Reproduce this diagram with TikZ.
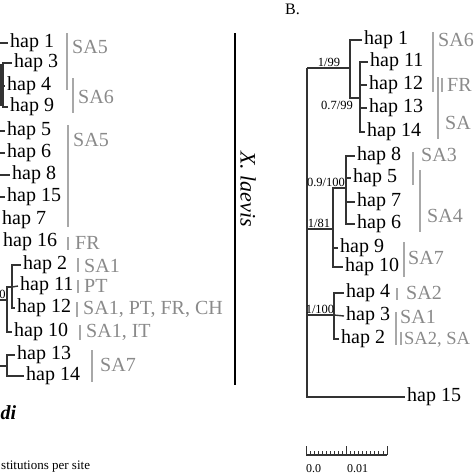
\documentclass[tikz,border=0pt]{standalone}
\usepackage{fontspec}
\setmainfont{Liberation Serif}
\definecolor{treegray}{HTML}{333333}
\definecolor{grpgray}{HTML}{8A8A8A}
\definecolor{bargray}{HTML}{A8A8A8}
\begin{document}
\begin{tikzpicture}[x=1pt,y=-1pt,
  tip/.style={anchor=west,inner xsep=2pt,inner ysep=0pt,font=\fontsize{20}{22}\selectfont},
  grp/.style={anchor=west,inner sep=0pt,text=grpgray,font=\fontsize{20}{22}\selectfont},
  br/.style={draw=treegray,line width=1.4pt},
  bar/.style={draw=bargray,line width=1.3pt},
  bs/.style={font=\fontsize{12.5}{14}\selectfont,inner sep=0.8pt}]
\useasboundingbox (0,0) rectangle (474,474);
\clip (0,0) rectangle (474,474);

% ===== Left tree =====
\node[tip] (L1) at (8,43) {hap 1};
\node[tip] (L3) at (12,63) {hap 3};
\node[tip] (L4) at (5,86) {hap 4};
\node[tip] (L9) at (8,107) {hap 9};
\node[tip] (L5) at (5,131) {hap 5};
\node[tip] (L6) at (5,153) {hap 6};
\node[tip] (L8) at (10,175) {hap 8};
\node[tip] (L15) at (5,197) {hap 15};
\node[tip] (L7) at (0,220) {hap 7};
\node[tip] (L16) at (1,242) {hap 16};
\node[tip] (L2) at (21,265) {hap 2};
\node[tip] (L11) at (18,286) {hap 11};
\node[tip] (L12) at (15,308) {hap 12};
\node[tip] (L10) at (12,332) {hap 10};
\node[tip] (L13) at (15,355) {hap 13};
\node[tip] (L14) at (24,376) {hap 14};

\coordinate (la) at (-10,43);
\draw[br] (la) -- (L1.west);
\coordinate (lb) at (3,86);
\coordinate (lbp) at (-10,86);
\draw[br] (lb) |- (L3.west);
\draw[br] (lb) |- (L9.west);
\draw[br] (lbp) -- (L4.west);
\coordinate (lbt) at (1,64);
\coordinate (lbb) at (1,106);
\draw[br] (lbt) -- (lbb);
\coordinate (l5) at (-10,131);
\coordinate (l6) at (-10,153);
\coordinate (l8) at (-10,175);
\coordinate (l15) at (-10,197);
\draw[br] (l5) -- (L5.west);
\draw[br] (l6) -- (L6.west);
\draw[br] (l8) -- (L8.west);
\draw[br] (l15) -- (L15.west);

\coordinate (lc) at (12,287);
\draw[br] (lc) |- (L2.west);
\draw[br] (lc) |- (L12.west);
\draw[br] (lc) -- (L11.west);
\coordinate (ld) at (7,300);
\draw[br] (ld) |- (lc);
\draw[br] (ld) |- (L10.west);
\coordinate (le) at (-10,300);
\draw[br] (le) -- (ld);
\node[bs,anchor=south east] (b0) at (6.5,300) {0};

\coordinate (lf) at (7,366);
\draw[br] (lf) |- (L13.west);
\draw[br] (lf) |- (L14.west);
\coordinate (lg) at (-10,366);
\draw[br] (lg) -- (lf);

% left groups
\coordinate (g1a) at (67,33);  \coordinate (g1b) at (67,90);  \draw[bar] (g1a) -- (g1b);
\node[grp] (t1) at (72,47) {SA5};
\coordinate (g2a) at (73,78);  \coordinate (g2b) at (73,113); \draw[bar] (g2a) -- (g2b);
\node[grp] (t2) at (78,97) {SA6};
\coordinate (g3a) at (68,125); \coordinate (g3b) at (68,227); \draw[bar] (g3a) -- (g3b);
\node[grp] (t3) at (73,140) {SA5};
\coordinate (g4a) at (68,237); \coordinate (g4b) at (68,250); \draw[bar] (g4a) -- (g4b);
\node[grp] (t4) at (75,243) {FR};
\coordinate (g5a) at (78,258); \coordinate (g5b) at (78,272); \draw[bar] (g5a) -- (g5b);
\node[grp] (t5) at (84,266) {SA1};
\coordinate (g6a) at (78,280); \coordinate (g6b) at (78,293); \draw[bar] (g6a) -- (g6b);
\node[grp] (t6) at (84,286) {PT};
\coordinate (g7a) at (77,302); \coordinate (g7b) at (77,317); \draw[bar] (g7a) -- (g7b);
\node[grp] (t7) at (83,309) {SA1, PT, FR, CH};
\coordinate (g8a) at (80,325); \coordinate (g8b) at (80,340); \draw[bar] (g8a) -- (g8b);
\node[grp] (t8) at (86,332) {SA1, IT};
\coordinate (g9a) at (92,350); \coordinate (g9b) at (92,382); \draw[bar] (g9a) -- (g9b);
\node[grp] (t9) at (100,365) {SA7};

% X. laevis bracket
\coordinate (xa) at (235,33); \coordinate (xb) at (235,385);
\draw[black,line width=1.5pt] (xa) -- (xb);
\node[rotate=-90,inner sep=0pt,font=\fontsize{22}{24}\selectfont\itshape] (xl) at (248,189) {X. laevis};

\node[anchor=west,inner sep=0pt,font=\fontsize{20}{22}\selectfont\bfseries\itshape] (xg) at (0.5,413) {di};
\node[anchor=west,inner sep=0pt,font=\fontsize{13}{15}\selectfont] (subs) at (1,467) {stitutions per site};

% ===== Right tree =====
\node[anchor=west,inner sep=0pt,font=\fontsize{16}{18}\selectfont] (B) at (285,9) {B.};

\node[tip] (R1) at (362,40) {hap 1};
\node[tip] (R11) at (368,62) {hap 11};
\node[tip] (R12) at (367,85) {hap 12};
\node[tip] (R13) at (367,108) {hap 13};
\node[tip] (R14) at (365,132) {hap 14};
\node[tip] (R8) at (355,156) {hap 8};
\node[tip] (R5) at (351,178) {hap 5};
\node[tip] (R7) at (355,202) {hap 7};
\node[tip] (R6) at (355,224) {hap 6};
\node[tip] (R9) at (338,248) {hap 9};
\node[tip] (R10) at (343,267) {hap 10};
\node[tip] (R4) at (344,293) {hap 4};
\node[tip] (R3) at (344,316) {hap 3};
\node[tip] (R2) at (339,339) {hap 2};
\node[tip] (R15) at (405,397) {hap 15};

\coordinate (ra) at (307,68);
\coordinate (rc) at (307,229);
\coordinate (rd) at (307,315);
\draw[br] (ra) |- (R15.west);

\coordinate (n1) at (350,68);
\draw[br] (ra) -- (n1);
\draw[br] (n1) |- (R1.west);
\coordinate (n2) at (360,98);
\draw[br] (n1) |- (n2);
\draw[br] (n2) |- (R11.west);
\draw[br] (n2) |- (R12.west);
\draw[br] (n2) |- (R13.west);
\draw[br] (n2) |- (R14.west);

\coordinate (n3) at (333,229);
\draw[br] (rc) -- (n3);
\coordinate (n4) at (346,188);
\draw[br] (n3) |- (n4);
\draw[br] (n3) |- (R9.west);
\draw[br] (n3) |- (R10.west);
\draw[br] (n4) |- (R8.west);
\draw[br] (n4) |- (R5.west);
\draw[br] (n4) |- (R7.west);
\draw[br] (n4) |- (R6.west);

\coordinate (n5) at (334,315);
\draw[br] (rd) -- (n5);
\draw[br] (n5) |- (R4.west);
\draw[br] (n5) |- (R2.west);
\draw[br] (n5) -- (R3.west);

\node[bs,anchor=south] (s1) at (329,68) {1/99};
\node[bs,anchor=north] (s2) at (337,100) {0.7/99};
\node[bs,anchor=south] (s3) at (326,188) {0.9/100};
\node[bs,anchor=south] (s4) at (319,229) {1/81};
\node[bs,anchor=south] (s5) at (320,315) {1/100};

% right groups
\coordinate (h1a) at (433,32);  \coordinate (h1b) at (433,92);  \draw[bar] (h1a) -- (h1b);
\node[grp] (u1) at (438,40) {SA6};
\coordinate (h2a) at (438,77);  \coordinate (h2b) at (438,139); \draw[bar] (h2a) -- (h2b);
\node[grp] (u2) at (445,123) {SA};
\coordinate (h3a) at (442,78);  \coordinate (h3b) at (442,92);  \draw[bar] (h3a) -- (h3b);
\node[grp] (u3) at (447,85) {FR};
\coordinate (h4a) at (413,152); \coordinate (h4b) at (413,185); \draw[bar] (h4a) -- (h4b);
\node[grp] (u4) at (421,155) {SA3};
\coordinate (h5a) at (420,170); \coordinate (h5b) at (420,232); \draw[bar] (h5a) -- (h5b);
\node[grp] (u5) at (427,216) {SA4};
\coordinate (h6a) at (404,242); \coordinate (h6b) at (404,277); \draw[bar] (h6a) -- (h6b);
\node[grp] (u6) at (408,258) {SA7};
\coordinate (h7a) at (397,288); \coordinate (h7b) at (397,300); \draw[bar] (h7a) -- (h7b);
\node[grp] (u7) at (406,293) {SA2};
\coordinate (h8a) at (396,312); \coordinate (h8b) at (396,345); \draw[bar] (h8a) -- (h8b);
\node[grp] (u8) at (400,317) {SA1};
\coordinate (h9a) at (401,332); \coordinate (h9b) at (401,345); \draw[bar] (h9a) -- (h9b);
\node[grp,font=\fontsize{18.5}{21}\selectfont] (u9) at (404,340) {SA2, SA};

% scale bar
\coordinate (sb0) at (306,455);
\coordinate (sb2) at (387,455);
\draw[br,line width=1.1pt] (sb0) -- (sb2);
\foreach \i in {0,...,20}{
  \pgfmathsetmacro{\xx}{306+\i*81/20}
  \pgfmathsetmacro{\hh}{ifthenelse(mod(\i,10)==0,9,4.5)}
  \draw[draw=treegray,line width=0.9pt] (\xx,455) -- (\xx,455-\hh);
}
\node[anchor=west,inner sep=0pt,font=\fontsize{12}{14}\selectfont] (sl0) at (306,469) {0.0};
\node[anchor=west,inner sep=0pt,font=\fontsize{12}{14}\selectfont] (sl1) at (347,469) {0.01};
\end{tikzpicture}
\end{document}
